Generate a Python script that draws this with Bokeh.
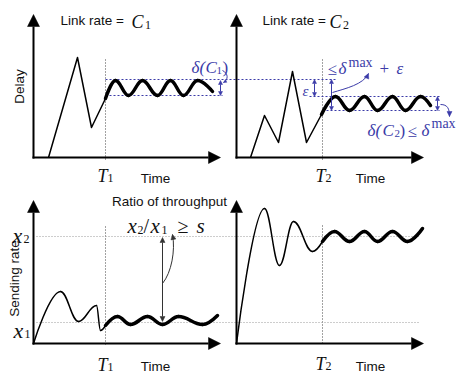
from bokeh.plotting import figure
from bokeh.models import Range1d, Arrow, NormalHead
from bokeh.core.properties import value
from bokeh.embed import file_html
from bokeh.resources import INLINE

# ---------------- data (panel-local: time t to the right, value v upward) ----------------
tl_t = [15, 44, 58, 72]
tl_v = [0, 100, 30, 59]
tl_wave_t = [72, 82, 95, 109, 124, 137, 150, 164, 179]
tl_wave_v = [59, 77, 62, 77, 62, 77, 62, 77, 66]

tr_t = [14, 28, 42, 56, 70, 85]
tr_v = [0, 42, 15, 86, 15, 43]
tr_wave_t = [85, 99, 113, 128, 141, 156, 169, 184, 194]
tr_wave_v = [43, 61, 47, 61, 47, 61, 47, 61, 52]

bl_t = [0, 27, 45, 63, 67, 72]
bl_v = [0, 52, 22, 38, 13, 18]
bl_wave_t = [72, 84, 97, 114, 129, 145, 169, 184]
bl_wave_v = [18, 27, 19, 27, 19, 27, 19, 28]

br_t = [0, 28, 43, 57, 76, 86]
br_v = [0, 135, 78, 122, 92, 102]
br_wave_t = [86, 98, 113, 128, 141, 156, 171, 186]
br_wave_v = [102, 112, 102, 112, 102, 112, 102, 115]

T1 = 72
T2 = 86
x1_level = 21
x2_level = 107

# ---------------- layout ----------------
ORIG = {"tl": (33, 157), "tr": (236, 157), "bl": (33, 343), "br": (236, 343)}
BLUE = "#3b3ba8"
INK = "#111111"
SANS = value("Liberation Sans")
SERIF = value("Liberation Serif")

p = figure(width=474, height=376, x_range=Range1d(0, 474), y_range=Range1d(376, 0),
           output_backend="svg", toolbar_location=None, min_border=0,
           x_axis_type=None, y_axis_type=None)
p.grid.visible = False
p.outline_line_color = None
p.background_fill_color = "white"


def to_canvas(panel, ts, vs):
    ox, oy = ORIG[panel]
    return [ox + t for t in ts], [oy - v for v in vs]


def smooth(panel, ts, vs, width, k=0.4):
    X, Y = to_canvas(panel, ts, vs)
    d = dict(x0=[], y0=[], x1=[], y1=[], cx0=[], cy0=[], cx1=[], cy1=[])
    n = len(X)
    for i in range(n - 1):
        dx = X[i + 1] - X[i]
        d["x0"].append(X[i]); d["y0"].append(Y[i])
        d["x1"].append(X[i + 1]); d["y1"].append(Y[i + 1])
        if i == 0:
            d["cx0"].append(X[i]); d["cy0"].append(Y[i])
        else:
            d["cx0"].append(X[i] + k * dx); d["cy0"].append(Y[i])
        if i + 1 == n - 1:
            d["cx1"].append(X[i + 1]); d["cy1"].append(Y[i + 1])
        else:
            d["cx1"].append(X[i + 1] - k * dx); d["cy1"].append(Y[i + 1])
    p.bezier(line_color="black", line_width=width, line_cap="round", **d)


def head(size, color):
    return NormalHead(size=size, fill_color=color, line_color=color, line_width=0.5)


def axis_arrows(panel, xlen=187, ylen=143):
    ox, oy = ORIG[panel]
    p.add_layout(Arrow(end=head(12, "black"), x_start=ox, y_start=oy + 1, x_end=ox, y_end=oy - ylen,
                       line_width=2, line_color="black"))
    p.add_layout(Arrow(end=head(12, "black"), x_start=ox - 1, y_start=oy, x_end=ox + xlen, y_end=oy,
                       line_width=2, line_color="black"))


def dbl(x, y0, y1, color, size=4):
    p.add_layout(Arrow(start=head(size, color), end=head(size, color), x_start=x, y_start=y0,
                       x_end=x, y_end=y1, line_width=1, line_color=color))


def curved(x0, y0, cx0, cy0, cx1, cy1, x1, y1, color, size=5):
    p.bezier(x0=[x0], y0=[y0], cx0=[cx0], cy0=[cy0], cx1=[cx1], cy1=[cy1], x1=[x1], y1=[y1],
             line_color=color, line_width=1)
    p.add_layout(Arrow(end=head(size, color), x_start=cx1, y_start=cy1, x_end=x1, y_end=y1,
                       line_alpha=0))


def txt(x, y, s, font=SANS, size="13.5px", color=INK, align="left", base="alphabetic",
        style="normal", angle=0):
    p.text(x=[x], y=[y], text=[s], text_font=font, text_font_size=size, text_color=color,
           text_align=align, text_baseline=base, text_font_style=style, angle=angle)


# ---------------- reference lines ----------------
for panel, T, top in (("tl", T1, 59), ("tr", T2, 59), ("bl", T1, 226), ("br", T2, 225)):
    ox, oy = ORIG[panel]
    p.segment(x0=[ox + T], y0=[top], x1=[ox + T], y1=[oy + 2], line_color="#444444",
              line_width=1, line_dash="1 2")

for lvl in (x1_level, x2_level):
    yy = ORIG["bl"][1] - lvl
    p.segment(x0=[36], y0=[yy], x1=[420], y1=[yy], line_color="#9a9a9a", line_width=1,
              line_dash="1 2")

tl_hi = ORIG["tl"][1] - max(tl_wave_v[1:-1])
tl_lo = ORIG["tl"][1] - min(tl_wave_v[1:-1])
tr_hi = ORIG["tr"][1] - max(tr_wave_v[1:-1])
tr_lo = ORIG["tr"][1] - min(tr_wave_v[1:-1])
p.segment(x0=[105, 105, 309, 322], y0=[tl_hi - 1, tl_lo, tr_hi, tr_lo],
          x1=[336, 222, 439, 439], y1=[tl_hi - 1, tl_lo, tr_hi, tr_lo],
          line_color=BLUE, line_width=1, line_dash="2 2")

# ---------------- curves ----------------
X, Y = to_canvas("tl", tl_t, tl_v)
p.line(X, Y, line_color="black", line_width=1.5, line_join="round")
smooth("tl", tl_wave_t, tl_wave_v, 3.5)

X, Y = to_canvas("tr", tr_t, tr_v)
p.line(X, Y, line_color="black", line_width=1.5, line_join="round")
smooth("tr", tr_wave_t, tr_wave_v, 3.5)

smooth("bl", bl_t, bl_v, 1.5)
smooth("bl", bl_wave_t, bl_wave_v, 3.5)

smooth("br", br_t, br_v, 1.5)
smooth("br", br_wave_t, br_wave_v, 3.5)

# ---------------- axes ----------------
for panel in ("tl", "tr", "bl", "br"):
    axis_arrows(panel)

# ---------------- annotations ----------------
dbl(220, tl_hi, tl_lo, BLUE)
curved(222, 70, 228, 73, 228, 79, 223, 82, BLUE, size=3)
dbl(314, tl_hi - 1, tr_hi, BLUE)
dbl(331, tl_hi - 1, tr_lo, BLUE)
curved(332, 92, 345, 88, 363, 84, 368, 73, BLUE)
dbl(437, tr_hi, tr_lo, BLUE)
curved(440, 104, 447, 104, 449, 108, 449, 116, BLUE)
dbl(162, ORIG["bl"][1] - x2_level + 1, ORIG["bl"][1] - x1_level - 1, "#333333", size=5)
curved(162, 283, 171, 272, 175, 250, 172, 234, "#333333")

# ---------------- texts ----------------
txt(60, 20, "Link rate =")
txt(131, 21, "C", SERIF, "18px", style="italic")
txt(144.5, 24, "1", SERIF, "12px")
txt(262, 20, "Link rate =")
txt(329, 21, "C", SERIF, "18px", style="italic")
txt(342.5, 24, "2", SERIF, "12px")
txt(169, 201, "Ratio of throughput", align="center")

txt(19, 86, "Delay", base="middle", align="center", angle=1.5708)
txt(14, 278, "Sending rate", base="middle", align="center", angle=1.5708)
for cx, by in ((155, 178), (370, 178), (155, 366), (370, 366)):
    txt(cx, by, "Time", align="center")

for tx, by, sub in ((97, 175, "1"), (315, 175, "2"), (97, 364, "1"), (315, 363, "2")):
    txt(tx, by, "T", SERIF, "18px", style="italic")
    txt(tx + 10, by + 2, sub, SERIF, "12px")

txt(12, 235, "x", SERIF, "22px", style="italic")
txt(23, 238, "2", SERIF, "12px")
txt(13, 330, "x", SERIF, "22px", style="italic")
txt(24, 333, "1", SERIF, "12px")

txt(127, 225, "x", SERIF, "21px", style="italic")
txt(137, 229, "2", SERIF, "12px")
txt(143, 225, "/", SERIF, "20px")
txt(150, 225, "x", SERIF, "21px", style="italic")
txt(161, 229, "1", SERIF, "12px")
txt(177, 225, "≥", SERIF, "20px")
txt(196, 225, "s", SERIF, "21px", style="italic")

txt(191, 67, "δ(", SERIF, "17px", color=BLUE, style="italic")
txt(205, 67, "C", SERIF, "17px", color=BLUE, style="italic")
txt(216, 70, "1", SERIF, "11px", color=BLUE)
txt(222, 67, ")", SERIF, "17px", color=BLUE)

txt(327, 69, "≤", SERIF, "17px", color=BLUE)
txt(338, 68, "δ", SERIF, "17px", color=BLUE, style="italic")
txt(348, 62, "max", SERIF, "14px", color=BLUE)
txt(379, 68, "+", SERIF, "17px", color=BLUE)
txt(396, 68, "ε", SERIF, "17px", color=BLUE, style="italic")

txt(302, 90, "ε", SERIF, "15px", color=BLUE, style="italic")

txt(367, 130, "δ(", SERIF, "17px", color=BLUE, style="italic")
txt(382, 130, "C", SERIF, "17px", color=BLUE, style="italic")
txt(394, 133, "2", SERIF, "11px", color=BLUE)
txt(399, 130, ")", SERIF, "17px", color=BLUE)
txt(407, 131, "≤", SERIF, "17px", color=BLUE)
txt(421, 130, "δ", SERIF, "17px", color=BLUE, style="italic")
txt(431, 123, "max", SERIF, "14px", color=BLUE)

open("out.html", "w").write(file_html(p, INLINE))
